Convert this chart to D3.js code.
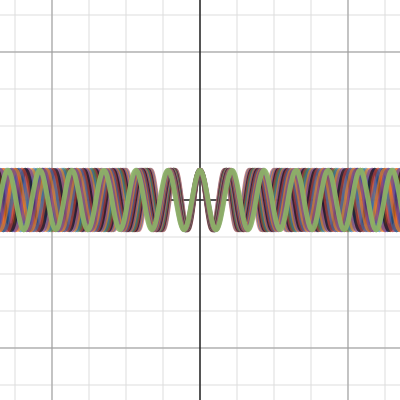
<!DOCTYPE html>
<html><head><meta charset="utf-8">
<script src="https://cdn.jsdelivr.net/npm/d3@7"></script>
<style>body{margin:0;background:#fff}</style>
</head><body>
<svg id="chart" width="400" height="400"></svg>
<script>
// curve family: y = amp * cos(freq * x)
const baseFreq = 7.26;
const amp = 0.8;
const freqFactors = [1.30, 1.28, 1.26, 1.24, 1.22, 1.20, 1.18, 1.16, 1.14, 1.12, 1.10, 1.08, 1.06, 1.04, 1.02, 1.0];
const colors = ["#c74440", "#2d70b3", "#fa7e19", "#6042a6", "#000000", "#c74440", "#388c46", "#2d70b3",
                "#fa7e19", "#6042a6", "#000000", "#c74440", "#2d70b3", "#fa7e19", "#6042a6", "#8db566"];
const minorTicks = d3.range(-5, 6);
const majorTicks = [-4, 4];

const svg = d3.select("#chart");
const x = d3.scaleLinear().domain([-200 / 37, 200 / 37]).range([0, 400]);
const y = d3.scaleLinear().domain([-200 / 37, 200 / 37]).range([400, 0]);

// grid
svg.selectAll(".minx").data(minorTicks).join("line")
  .attr("x1", d => x(d)).attr("x2", d => x(d)).attr("y1", 0).attr("y2", 400)
  .attr("stroke", "#ddd").attr("stroke-width", 1);
svg.selectAll(".miny").data(minorTicks).join("line")
  .attr("y1", d => y(d)).attr("y2", d => y(d)).attr("x1", 0).attr("x2", 400)
  .attr("stroke", "#ddd").attr("stroke-width", 1);
svg.selectAll(".majx").data(majorTicks).join("line")
  .attr("x1", d => x(d)).attr("x2", d => x(d)).attr("y1", 0).attr("y2", 400)
  .attr("stroke", "#999").attr("stroke-width", 1);
svg.selectAll(".majy").data(majorTicks).join("line")
  .attr("y1", d => y(d)).attr("y2", d => y(d)).attr("x1", 0).attr("x2", 400)
  .attr("stroke", "#999").attr("stroke-width", 1);
svg.append("line").attr("x1", x(0)).attr("x2", x(0)).attr("y1", 0).attr("y2", 400)
  .attr("stroke", "#222").attr("stroke-width", 1.5);
svg.append("line").attr("y1", y(0)).attr("y2", y(0)).attr("x1", 0).attr("x2", 400)
  .attr("stroke", "#222").attr("stroke-width", 1.5);

// curves
const xs = d3.range(-5.5, 5.5, 0.01);
const line = d3.line().x(d => x(d[0])).y(d => y(d[1]));
freqFactors.forEach((f, i) => {
  const pts = xs.map(v => [v, amp * Math.cos(baseFreq * f * v)]);
  svg.append("path").attr("d", line(pts)).attr("fill", "none")
    .attr("stroke", colors[i]).attr("stroke-opacity", i === freqFactors.length - 1 ? 0.9 : 0.6)
    .attr("stroke-width", 5);
});
</script>
</body></html>
